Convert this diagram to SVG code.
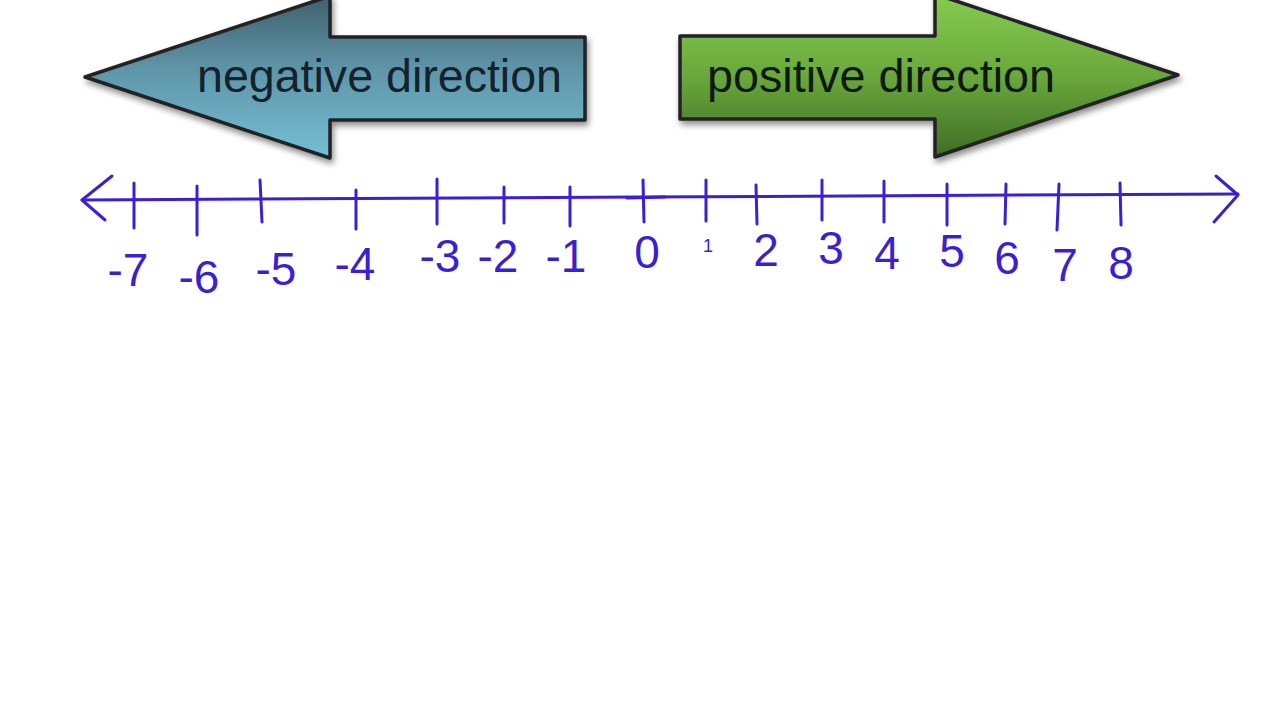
<svg xmlns="http://www.w3.org/2000/svg" width="1280" height="720" viewBox="0 0 1280 720">
<defs>
<linearGradient id="gBlue" x1="0" y1="0" x2="0" y2="1">
<stop offset="0" stop-color="#3f5f6c"/>
<stop offset="0.45" stop-color="#5f95a8"/>
<stop offset="1" stop-color="#75bfd6"/>
</linearGradient>
<linearGradient id="gGreen" x1="0" y1="0" x2="0" y2="1">
<stop offset="0" stop-color="#86cc4e"/>
<stop offset="0.5" stop-color="#6aa83c"/>
<stop offset="1" stop-color="#3f6e25"/>
</linearGradient>
<filter id="shadow" x="-10%" y="-20%" width="120%" height="150%">
<feGaussianBlur in="SourceAlpha" stdDeviation="3"/>
<feOffset dx="2" dy="4" result="b"/>
<feComponentTransfer><feFuncA type="linear" slope="0.45"/></feComponentTransfer>
<feMerge><feMergeNode/><feMergeNode in="SourceGraphic"/></feMerge>
</filter>
</defs>
<style>
.arrowShape{stroke:#222;stroke-width:3.5;stroke-linejoin:round;filter:url(#shadow)}
.arrowText{font-family:"Liberation Sans",Arial,sans-serif;font-size:46px}
.nl{stroke:#3b1fd4;stroke-width:3;fill:none;stroke-linecap:round;stroke-linejoin:round}
.num{font-family:"Liberation Sans",Arial,sans-serif;font-size:46px;fill:#3b1fd4;text-anchor:middle}
</style>
<rect width="1280" height="720" fill="#ffffff"/>

<g id="negative-arrow">
<path class="arrowShape" fill="url(#gBlue)" d="M85,77 L330,-4 L330,37 L585,37 L585,120 L330,120 L330,158 Z"/>
<text class="arrowText" x="197" y="92" fill="#14222e" textLength="365" lengthAdjust="spacingAndGlyphs">negative direction</text>
</g>

<g id="positive-arrow">
<path class="arrowShape" fill="url(#gGreen)" d="M680,36 L935,36 L935,-6 L1178,75 L935,157 L935,119 L680,119 Z"/>
<text class="arrowText" x="707" y="92" fill="#0e1a08" textLength="348" lengthAdjust="spacingAndGlyphs">positive direction</text>
</g>

<g id="connectors">
<path class="nl" d="M82,200 L640,197 L1238,194"/>
<path class="nl" d="M112,176 L82,200 L105,220"/>
<path class="nl" d="M1216,176 L1238,195 L1214,222"/>
<path class="nl" d="M627,198 L665,197" stroke-width="5"/>
<g class="ticks">
<path class="nl" d="M134,183 L134,228"/>
<path class="nl" d="M197,186 L197,235"/>
<path class="nl" d="M260,180 L262,222"/>
<path class="nl" d="M356,190 L356,229"/>
<path class="nl" d="M437,179 L437,224"/>
<path class="nl" d="M504,187 L504,223"/>
<path class="nl" d="M570,187 L570,226"/>
<path class="nl" d="M643,180 L644,222"/>
<path class="nl" d="M706,180 L706,221"/>
<path class="nl" d="M756,185 L757,224"/>
<path class="nl" d="M822,180 L822,220"/>
<path class="nl" d="M884,181 L884,222"/>
<path class="nl" d="M947,184 L947,225"/>
<path class="nl" d="M1006,184 L1005,224"/>
<path class="nl" d="M1059,184 L1057,230"/>
<path class="nl" d="M1120,183 L1121,225"/>
</g>
</g>

<g id="labels">
<text class="num" x="128" y="286">-7</text>
<text class="num" x="199" y="293">-6</text>
<text class="num" x="276" y="285">-5</text>
<text class="num" x="355" y="280">-4</text>
<text class="num" x="440" y="272">-3</text>
<text class="num" x="498" y="272">-2</text>
<text class="num" x="566" y="272">-1</text>
<text class="num" x="647" y="268">0</text>
<text class="num" x="708" y="252" style="font-size:18px">1</text>
<text class="num" x="766" y="266">2</text>
<text class="num" x="831" y="264">3</text>
<text class="num" x="887" y="269">4</text>
<text class="num" x="952" y="267">5</text>
<text class="num" x="1007" y="274">6</text>
<text class="num" x="1065" y="281">7</text>
<text class="num" x="1121" y="279">8</text>
</g>
</svg>
